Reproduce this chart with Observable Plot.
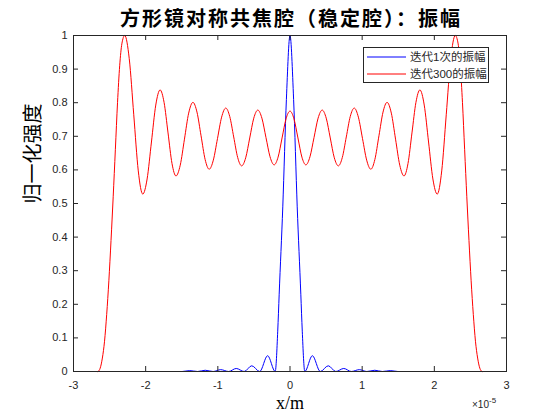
<!DOCTYPE html>
<html><head><meta charset="utf-8">
<script src="https://cdn.jsdelivr.net/npm/d3@7"></script>
<script src="https://cdn.jsdelivr.net/npm/@observablehq/plot@0.6"></script>
<style>
body{margin:0;background:#fff;}
#wrap{position:relative;width:560px;height:420px;overflow:hidden;}
#title{position:absolute;left:0;width:582px;top:8px;text-align:center;font:bold 20px "Noto Sans CJK SC",sans-serif;letter-spacing:2px;color:#000;line-height:20px;}
#legend{position:absolute;left:363px;top:47px;width:124px;height:34px;border:1px solid #262626;background:#fff;}
.row{position:absolute;left:3px;height:14px;font:11.5px "Liberation Sans","Noto Sans CJK SC",sans-serif;color:#262626;line-height:14px;white-space:nowrap;}
.row svg{position:absolute;left:0;top:6px;}
.row span{position:absolute;left:43px;top:0;}
#expo{position:absolute;left:472px;top:397px;font:10px "Liberation Sans",sans-serif;color:#262626;white-space:nowrap;}
#expo sup{font-size:8px;position:relative;top:-1px;}
</style></head><body><div id="wrap"></div>
<script>
const title = "方形镜对称共焦腔（稳定腔）：振幅";
const xLabel = "x/m";
const yLabel = "归一化强度";
const seriesNames = ["迭代1次的振幅", "迭代300的振幅"];
const seriesColors = ["#0000FF", "#FF0000"];
const xTicks = [-3, -2, -1, 0, 1, 2, 3];
const yTicks = [0, 0.1, 0.2, 0.3, 0.4, 0.5, 0.6, 0.7, 0.8, 0.9, 1];

// x in units of 1e-5 m
const blueX = [-2.65, -1.6, -1.495, -1.39, -1.28, -1.175, -1.065, -0.96, -0.85, -0.745, -0.635, -0.53, -0.42, -0.31, -0.205, -0.17, -0.15, -0.1, -0.05, 0, 0.05, 0.1, 0.15, 0.17, 0.205, 0.31, 0.42, 0.53, 0.635, 0.745, 0.85, 0.96, 1.065, 1.175, 1.28, 1.39, 1.495, 1.6, 2.65];
const blueY = [0, 0, 0, 0.0027, 0, 0.0037, 0, 0.0055, 0, 0.009, 0, 0.017, 0, 0.047, 0, 0.12, 0.23, 0.49, 0.81, 1, 0.81, 0.49, 0.23, 0.12, 0, 0.047, 0, 0.017, 0, 0.009, 0, 0.0055, 0, 0.0037, 0, 0.0027, 0, 0, 0];

const redX = [-2.66,-2.63,-2.60,-2.57,-2.54,-2.51,-2.48,-2.45,-2.42,-2.39,-2.36,-2.33,-2.29,
-2.2275,-2.165,-2.1025,-2.04,
-1.98,-1.92,-1.86,-1.80,
-1.745,-1.69,-1.635,-1.58,
-1.521,-1.4625,-1.404,-1.345,
-1.289,-1.2325,-1.176,-1.12,
-1.0625,-1.005,-0.9475,-0.89,
-0.835,-0.78,-0.725,-0.67,
-0.614,-0.558,-0.502,-0.446,
-0.3895,-0.333,-0.2765,-0.22,
-0.165,-0.11,-0.055,0,
0.055,0.11,0.165,0.22,
0.2765,0.333,0.3895,0.446,
0.502,0.558,0.614,0.67,
0.725,0.78,0.835,0.89,
0.9475,1.005,1.0625,1.12,
1.176,1.2325,1.289,1.345,
1.404,1.4625,1.521,1.58,
1.635,1.69,1.745,1.80,
1.86,1.92,1.98,2.04,
2.1025,2.165,2.2275,2.29,
2.33,2.36,2.39,2.42,2.45,2.48,2.51,2.54,2.57,2.60,2.63,2.66];
const redY = [0,0.01,0.04,0.09,0.17,0.27,0.39,0.52,0.66,0.80,0.91,0.975,1.0,
0.931,0.764,0.597,0.528,
0.573,0.683,0.793,0.838,
0.801,0.710,0.619,0.582,
0.614,0.6915,0.769,0.801,
0.772,0.7015,0.631,0.602,
0.629,0.693,0.757,0.784,
0.759,0.698,0.637,0.612,
0.636,0.695,0.754,0.778,
0.754,0.6965,0.639,0.615,
0.638,0.695,0.752,0.775,
0.752,0.695,0.638,0.615,
0.639,0.6965,0.754,0.778,
0.754,0.695,0.636,0.612,
0.637,0.698,0.759,0.784,
0.757,0.693,0.629,0.602,
0.631,0.7015,0.772,0.801,
0.769,0.6915,0.614,0.582,
0.619,0.710,0.801,0.838,
0.793,0.683,0.573,0.528,
0.597,0.764,0.931,1.0,
0.975,0.91,0.80,0.66,0.52,0.39,0.27,0.17,0.09,0.04,0.01,0];

const blue = blueX.map((x, i) => ({x, y: blueY[i]}));
const red = redX.map((x, i) => ({x, y: redY[i]}));

const W = 560, H = 420, mT = 35, mB = 49, mL = 73, mR = 54;
const pw = W - mL - mR, ph = H - mT - mB, tk = 5;
const ink = "#262626";

const chart = Plot.plot({
  width: W, height: H,
  marginTop: mT, marginBottom: mB, marginLeft: mL, marginRight: mR,
  x: {domain: [-3, 3]},
  y: {domain: [0, 1]},
  style: {fontFamily: '"Liberation Sans", Arial, sans-serif', fontSize: "11px", color: ink, background: "white", overflow: "visible"},
  marks: [
    Plot.line(blue, {x: "x", y: "y", stroke: seriesColors[0], strokeWidth: 1, curve: "monotone-x"}),
    Plot.line(red, {x: "x", y: "y", stroke: seriesColors[1], strokeWidth: 1, curve: "monotone-x"}),
    Plot.frame({stroke: ink, strokeWidth: 1}),
    Plot.tickX(xTicks, {x: d => d, stroke: ink, insetTop: ph - tk}),
    Plot.tickX(xTicks, {x: d => d, stroke: ink, insetBottom: ph - tk}),
    Plot.tickY(yTicks, {y: d => d, stroke: ink, insetRight: pw - tk}),
    Plot.tickY(yTicks, {y: d => d, stroke: ink, insetLeft: pw - tk}),
    Plot.axisX(xTicks, {tickSize: 0, tickPadding: 10, tickFormat: d => String(d), label: null}),
    Plot.axisY(yTicks, {tickSize: 0, tickPadding: 6, tickFormat: d => String(d), label: null}),
    Plot.text([yLabel], {frameAnchor: "left", text: d => d, rotate: -90, dx: -40, fontSize: 20, fontFamily: '"Noto Sans CJK SC", sans-serif', fill: "#000"}),
    Plot.text([xLabel], {frameAnchor: "bottom", lineAnchor: "middle", text: d => d, dy: 32, fontSize: 18, fontFamily: '"Liberation Serif", "Times New Roman", serif', fill: "#000"})
  ]
});

const wrap = document.getElementById("wrap");
wrap.appendChild(chart);

const t = document.createElement("div");
t.id = "title"; t.textContent = title;
wrap.appendChild(t);

const lg = document.createElement("div");
lg.id = "legend";
seriesNames.forEach((name, i) => {
  const r = document.createElement("div");
  r.className = "row";
  r.style.top = (2 + i * 16.5) + "px";
  r.innerHTML = `<svg width="40" height="2"><line x1="0" y1="1" x2="39" y2="1" stroke="${seriesColors[i]}" stroke-width="1"/></svg><span>${name}</span>`;
  lg.appendChild(r);
});
wrap.appendChild(lg);

const ex = document.createElement("div");
ex.id = "expo";
ex.innerHTML = "×10<sup>-5</sup>";
wrap.appendChild(ex);
</script>
</body></html>
